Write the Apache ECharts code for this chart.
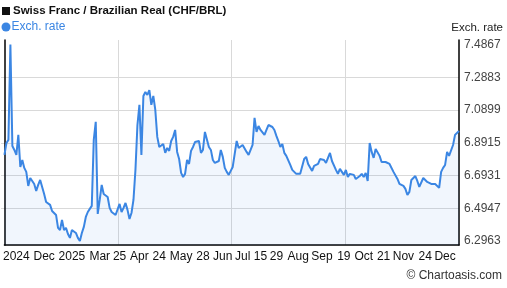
<!DOCTYPE html>
<html><head><meta charset="utf-8">
<script src="https://cdn.jsdelivr.net/npm/echarts@6/dist/echarts.min.js"></script>
<style>html,body{margin:0;padding:0;background:#fff}#c{width:507px;height:288px}</style>
</head><body><div id="c"></div>
<script>
// CHF/BRL exchange rate, one value per sampled day (Dec 2024 - Dec 2025)
const values = [
6.818,6.890,6.909,7.4867,6.872,6.848,6.818,6.939,6.745,6.787,
6.739,6.715,6.630,6.678,6.660,6.642,6.600,6.636,6.666,6.654,
6.581,6.533,6.521,6.515,6.478,6.466,6.454,6.376,6.363,6.424,
6.363,6.376,6.339,6.315,6.363,6.351,6.345,6.315,6.2963,6.345,
6.382,6.442,6.472,6.491,6.509,6.909,7.018,6.460,6.545,6.636,
6.581,6.569,6.563,6.497,6.472,6.460,6.454,6.448,6.521,6.472,
6.497,6.527,6.485,6.430,6.466,6.545,6.727,6.999,7.121,6.818,
7.175,7.199,7.181,7.211,7.121,7.175,7.090,6.927,6.866,6.860,
6.884,6.830,6.860,6.842,6.902,6.927,6.969,6.836,6.793,6.709,
6.684,6.703,6.787,6.763,6.842,6.866,6.896,6.890,6.902,6.830,
6.848,6.957,6.951,6.866,6.848,6.787,6.769,6.775,6.781,6.848,
6.806,6.739,6.715,6.697,6.721,6.745,6.824,6.902,6.860,6.866,
6.878,6.884,6.836,6.818,6.848,6.878,7.042,6.957,6.993,6.969,
6.969,6.939,6.969,6.999,6.993,6.987,6.969,6.933,6.902,6.866,
6.884,6.830,6.812,6.818,6.757,6.727,6.715,6.703,6.703,6.703,
6.697,6.793,6.806,6.763,6.757,6.721,6.751,6.751,6.763,6.793,
6.800,6.787,6.769,6.800,6.830,6.781,6.769,6.727,6.703,6.733,
6.721,6.697,6.727,6.684,6.703,6.697,6.697,6.672,6.684,6.690,
6.703,6.684,6.709,6.660,6.890,6.836,6.800,6.854,6.866,6.812,
6.775,6.787,6.775,6.775,6.763,6.757,6.715,6.715,6.672,6.642,
6.636,6.630,6.612,6.575,6.594,6.666,6.672,6.690,6.660,6.624,
6.636,6.678,6.666,6.654,6.648,6.642,6.648,6.642,6.636,6.618,
6.715,6.739,6.757,6.836,6.812,6.806,6.878,6.939,6.951,6.963
];
const categories = values.map((_, i) => 'day' + i);
// x-axis tick labels and the category each one sits on
const xTickText = ['2024','Dec','2025','Mar','25','Apr','24','May','28','Jun','Jul','15','29','Aug','Sep','19','Oct','21','Nov','24','Dec'];
const xTickAt   = [6,20,34,48,58,68,78,89,100,110,120,129,137,148,160,171,181,191,201,212,222];
// y-axis tick values
const yTicks = [6.2963, 6.4947, 6.6931, 6.8915, 7.0899, 7.2883, 7.4867];
const seriesName = 'Exch. rate';
const titleText = 'Swiss Franc / Brazilian Real (CHF/BRL)';
const credit = '\u00a9 Chartoasis.com';

const FONT = '"Liberation Sans", Arial, sans-serif';
const LINE = '#3b86e3';
const labelMap = {};
xTickAt.forEach((ix, k) => { labelMap[ix] = xTickText[k]; });

// outer frame is a few pixels taller than the labelled range
const innerTop = 44.5, innerH = 196.5, outerTop = 40, outerH = 205;
const yMin = yTicks[0], yMax = yTicks[yTicks.length - 1];
const pxPerUnit = innerH / (yMax - yMin);
const outerMax = yMax + (innerTop - outerTop) / pxPerUnit;
const outerMin = yMin - ((outerTop + outerH) - (innerTop + innerH)) / pxPerUnit;
const yStep = +(yTicks[1] - yTicks[0]).toFixed(4);

const chart = echarts.init(document.getElementById('c'), null, {renderer: 'canvas'});
chart.setOption({
  animation: false,
  backgroundColor: '#fff',
  textStyle: {fontFamily: FONT},
  title: {
    text: titleText, left: 13, top: 5, padding: 0,
    textStyle: {fontSize: 11.5, fontWeight: 'bold', color: '#111', fontFamily: FONT}
  },
  legend: {
    data: [{name: seriesName, icon: 'circle'}],
    left: 1.5, top: 21, padding: 0, itemWidth: 9, itemHeight: 9,
    textStyle: {fontSize: 12, color: LINE, fontFamily: FONT, padding: [0, 0, 0, -4]}
  },
  graphic: [
    {type: 'rect', left: 2, top: 7, shape: {width: 8, height: 8}, style: {fill: '#111'}},
    {type: 'text', right: 4, top: 22, style: {text: seriesName, fontSize: 11.5, fontFamily: FONT, fill: '#222'}},
    {type: 'text', right: 5, top: 270, style: {text: credit, fontSize: 12, fontFamily: FONT, fill: '#333'}}
  ],
  grid: [
    {left: 1, right: 48, top: outerTop, height: outerH},
    {left: 1, right: 48, top: innerTop, height: innerH}
  ],
  xAxis: [
    {type: 'category', gridIndex: 0, data: categories, boundaryGap: false,
     axisLine: {show: true, onZero: false, lineStyle: {color: '#000', width: 1.5}},
     axisTick: {show: false}, splitLine: {show: false},
     axisLabel: {interval: 0, margin: 6, color: '#111', fontSize: 12, fontFamily: FONT,
                 formatter: (v, i) => labelMap[i] || ''}},
    {type: 'value', gridIndex: 0, min: 0, max: values.length - 1, interval: (values.length - 1) / 4,
     position: 'top', axisLine: {show: false}, axisTick: {show: false}, axisLabel: {show: false},
     splitLine: {show: true, showMinLine: false, showMaxLine: false, lineStyle: {color: '#d9d9d9', width: 1}}},
    {type: 'value', gridIndex: 1, show: false}
  ],
  yAxis: [
    {type: 'value', gridIndex: 0, min: outerMin, max: outerMax, position: 'left',
     axisLine: {show: true, lineStyle: {color: '#000', width: 1.5}},
     axisTick: {show: false}, axisLabel: {show: false}, splitLine: {show: false}},
    {type: 'value', gridIndex: 0, min: outerMin, max: outerMax, position: 'right',
     axisLine: {show: true, lineStyle: {color: '#000', width: 1.5}},
     axisTick: {show: false}, axisLabel: {show: false}, splitLine: {show: false}},
    {type: 'value', gridIndex: 1, min: yMin, max: yMax, interval: yStep, position: 'right',
     axisLine: {show: false}, axisTick: {show: false},
     axisLabel: {margin: 5, color: '#444', fontSize: 12, fontFamily: FONT, formatter: v => v.toFixed(4)},
     splitLine: {show: true, showMinLine: false, showMaxLine: false, lineStyle: {color: '#d9d9d9', width: 1}}}
  ],
  series: [{
    name: seriesName, type: 'line', xAxisIndex: 0, yAxisIndex: 0, data: values,
    showSymbol: false, symbol: 'none', smooth: false,
    lineStyle: {color: LINE, width: 2}, itemStyle: {color: LINE},
    areaStyle: {color: 'rgba(59,134,227,0.1)', origin: 'start'}
  }]
});
</script></body></html>
